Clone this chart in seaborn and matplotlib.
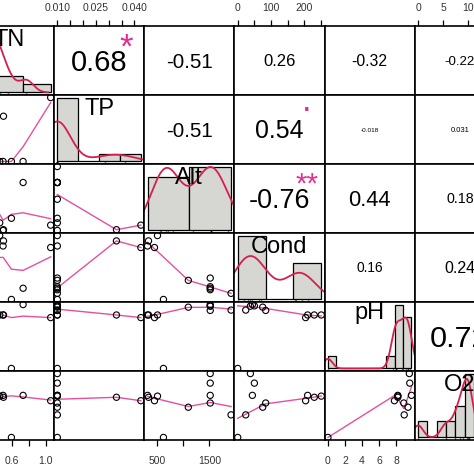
import numpy as np
import matplotlib
matplotlib.use("Agg")
import matplotlib.pyplot as plt
import seaborn as sns
from matplotlib.textpath import TextPath
from matplotlib.font_manager import FontProperties

# ---- values (11 sites) ----
names = ["TN", "TP", "Alt", "Cond", "pH", "O2"]
tn   = [0.49, 0.495, 1.06, 0.45, 0.59, 0.20, 0.32, 0.73, 0.12, 0.06, 0.26]
tp   = [0.010, 0.033, 0.0425, 0.010, 0.010, 0.010, 0.010, 0.010, 0.010, 0.010, 0.010]
alt  = [308, 327, 442, 500, 615, 1095, 1518, 1518, 1518, 1518, 1920]
cond = [210, 230, 204, 251, 0, 75, 84, 44, 50, 38, 24]
ph   = [8.2, 8.2, 7.8, 8.2, 0.0, 9.4, 8.9, 9.8, 9.6, 9.55, 8.95]
o2   = [11.0, 10.5, 9.6, 10.8, 0.0, 7.9, 9.0, 11.0, 14.2, 16.7, 5.9]

# correlations in the upper panels, row by row
cor_text   = ["0.68", "-0.51", "0.26", "-0.32", "-0.22",
              "-0.51", "0.54", "-0.018", "0.031",
              "-0.76", "0.44", "0.18",
              "0.16", "0.24",
              "0.72"]
cor_signif = ["*", "", "", "", "",
              "", ".", "", "",
              "**", "", "",
              "", "",
              "*"]

# histogram breaks on the diagonal
tn_bins   = [0, 0.5, 1.0, 1.5]
tp_bins   = [0.01, 0.02, 0.03, 0.04, 0.05]
alt_bins  = [0, 1000, 2000]
cond_bins = [0, 100, 200, 300]
ph_bins   = [0, 1, 2, 3, 4, 5, 6, 7, 8, 9, 10]
o2_bins   = [0, 2, 4, 6, 8, 10, 12, 14, 16, 18]

# axis ticks (top for TP/Cond/O2, bottom for TN/Alt/pH)
tn_ticks   = [0.2, 0.4, 0.6, 0.8, 1.0]
tn_labels  = ["0.2", "", "0.6", "", "1.0"]
tp_ticks   = [0.010, 0.015, 0.020, 0.025, 0.030, 0.035, 0.040]
tp_labels  = ["0.010", "", "", "0.025", "", "", "0.040"]
alt_ticks  = [500, 1000, 1500]
alt_labels = ["500", "", "1500"]
cond_ticks = [0, 50, 100, 150, 200, 250]
cond_labels = ["0", "", "100", "", "200", ""]
ph_ticks   = [0, 2, 4, 6, 8]
ph_labels  = ["0", "2", "4", "6", "8"]
o2_ticks   = [0, 5, 10, 15]
o2_labels  = ["0", "5", "10", "15"]

data = dict(zip(names, [np.array(v, float) for v in (tn, tp, alt, cond, ph, o2)]))
bins = dict(zip(names, [tn_bins, tp_bins, alt_bins, cond_bins, ph_bins, o2_bins]))
ticks = dict(zip(names, [(tn_ticks, tn_labels), (tp_ticks, tp_labels),
                         (alt_ticks, alt_labels), (cond_ticks, cond_labels),
                         (ph_ticks, ph_labels), (o2_ticks, o2_labels)]))

plt.rcParams["font.family"] = ["Liberation Sans", "DejaVu Sans"]

SMOOTH = "#E4509F"
DENS = "#D61E4E"
STAR = "#E2308C"
DPI = 100
W = H = 474
cell_w, cell_h = 90.2, 69.0
x0, y0 = -36.2, 26.0
n = len(names)


def cell_rect(i, j):
    left = x0 + j * cell_w
    top = y0 + i * cell_h
    return [left / W, 1 - (top + cell_h) / H, cell_w / W, cell_h / H]


def padded(v):
    lo, hi = np.min(v), np.max(v)
    d = (hi - lo) * 0.04
    return lo - d, hi + d


def lowess(x, y, f=2 / 3, iters=3):
    order = np.argsort(x, kind="stable")
    x = np.asarray(x, float)[order]
    y = np.asarray(y, float)[order]
    m = len(x)
    r = int(np.ceil(f * m))
    rng = x[-1] - x[0]
    rw = np.ones(m)
    fit = np.zeros(m)
    for _ in range(iters + 1):
        for i in range(m):
            d = np.abs(x - x[i])
            h = np.sort(d)[r - 1]
            if h <= 0:
                w = (d <= 0).astype(float)
            else:
                w = np.clip(1 - (d / h) ** 3, 0, None) ** 3
                w[d <= 0.001 * h] = 1.0
            w = w * rw
            sw = w.sum()
            if sw <= 0:
                fit[i] = y[i]
                continue
            xm = (w * x).sum() / sw
            ym = (w * y).sum() / sw
            var = (w * (x - xm) ** 2).sum() / sw
            if np.sqrt(var) > 0.001 * rng:
                b = (w * (x - xm) * (y - ym)).sum() / (var * sw)
                fit[i] = ym + b * (x[i] - xm)
            else:
                fit[i] = ym
        res = y - fit
        cmad = 6 * np.median(np.abs(res))
        if cmad < 1e-7 * np.mean(np.abs(y)):
            break
        u = np.abs(res) / cmad
        rw = np.where(u < 1, (1 - u ** 2) ** 2, 0.0)
    return x, fit


def density(v):
    # gaussian kernel, bw.nrd0, cut = 3 -- same as R's density()
    sd = v.std(ddof=1)
    iqr = np.subtract(*np.percentile(v, [75, 25]))
    lo = min(sd, iqr / 1.34) if iqr > 0 else sd
    bw = 0.9 * lo * len(v) ** (-0.2)
    xs = np.linspace(v.min() - 3 * bw, v.max() + 3 * bw, 512)
    z = (xs[:, None] - v[None, :]) / bw
    ys = np.exp(-0.5 * z ** 2).sum(axis=1) / (len(v) * bw * np.sqrt(2 * np.pi))
    return xs, ys


fp = FontProperties(family="Liberation Sans")
panel_pt = cell_w * 72 / DPI


def ink(s):
    ext = TextPath((0, 0), s, size=1, prop=fp).get_extents()
    return ext.width, (ext.y0 + ext.y1) / 2


def centered_text(ax, x, y, s, size, **kw):
    # put the ink centre of the glyphs at (x, y) like R's text()
    _, yc = ink(s)
    dy = yc * size * DPI / 72 / cell_h
    ax.text(x, y - dy, s, transform=ax.transAxes, ha="center",
            va="baseline", fontsize=size, **kw)


fig = plt.figure(figsize=(W / DPI, H / DPI), dpi=DPI)
fig.patch.set_facecolor("white")

k = 0
for i in range(n):
    for j in range(n):
        ax = fig.add_axes(cell_rect(i, j))
        xv, yv = names[j], names[i]
        if i == j:
            v = data[xv]
            edges = bins[xv]
            dens, _ = np.histogram(v, bins=edges, density=True)
            sns.histplot(x=v, bins=edges, stat="density", ax=ax, color="#D6D6D3",
                         edgecolor="black", linewidth=0.9, alpha=1)
            dx, dy = density(v)
            sns.lineplot(x=dx, y=dy, ax=ax, estimator=None, sort=False,
                         color=DENS, lw=1.3)
            sns.rugplot(x=v, ax=ax, height=0.035, color="black", lw=0.8)
            span = edges[-1] - edges[0]
            ax.set_xlim(edges[0] - 0.04 * span, edges[-1] + 0.04 * span)
            ax.set_ylim(-0.04 * dens.max(), 1.04 * dens.max())
            centered_text(ax, 0.5, 0.833, xv, 17, zorder=5)
        elif i > j:
            sns.scatterplot(x=data[xv], y=data[yv], ax=ax, s=20, color="black",
                            facecolors="none", edgecolor="black", linewidth=0.8,
                            zorder=3)
            lx, ly = lowess(data[xv], data[yv])
            sns.lineplot(x=lx, y=ly, ax=ax, estimator=None, sort=False,
                         color=SMOOTH, lw=1.0, zorder=2)
            ax.set_xlim(*padded(data[xv]))
            ax.set_ylim(*padded(data[yv]))
        else:
            ax.set_xlim(*padded(data[xv]))
            ax.set_ylim(0, 1)
            txt = cor_text[k]
            sig = cor_signif[k]
            k += 1
            base = 0.8 * panel_pt / ink(txt)[0]
            r = abs(float(txt))
            centered_text(ax, 0.5, 0.5, txt, base * (r + 0.3) / 1.3)
            if sig:
                centered_text(ax, 0.8, 0.8, sig, base * 0.9, color=STAR)

        ax.set_xlabel("")
        ax.set_ylabel("")
        ax.set_yticks([])
        ax.set_xticks([])
        for s in ax.spines.values():
            s.set_linewidth(1.2)
            s.set_color("black")

        if i == 0 and j % 2 == 1:
            t, lab = ticks[xv]
            ax.set_xticks(t)
            ax.set_xticklabels(lab)
            ax.tick_params(axis="x", top=True, bottom=False, labeltop=True,
                           labelbottom=False, length=4.3, width=0.9, pad=5,
                           labelsize=7.5, labelcolor="#333333")
        if i == n - 1 and j % 2 == 0:
            t, lab = ticks[xv]
            ax.set_xticks(t)
            ax.set_xticklabels(lab)
            ax.tick_params(axis="x", length=4.3, width=0.9, pad=7,
                           labelsize=7.5, labelcolor="#333333")

fig.savefig("out.png", dpi=DPI)
